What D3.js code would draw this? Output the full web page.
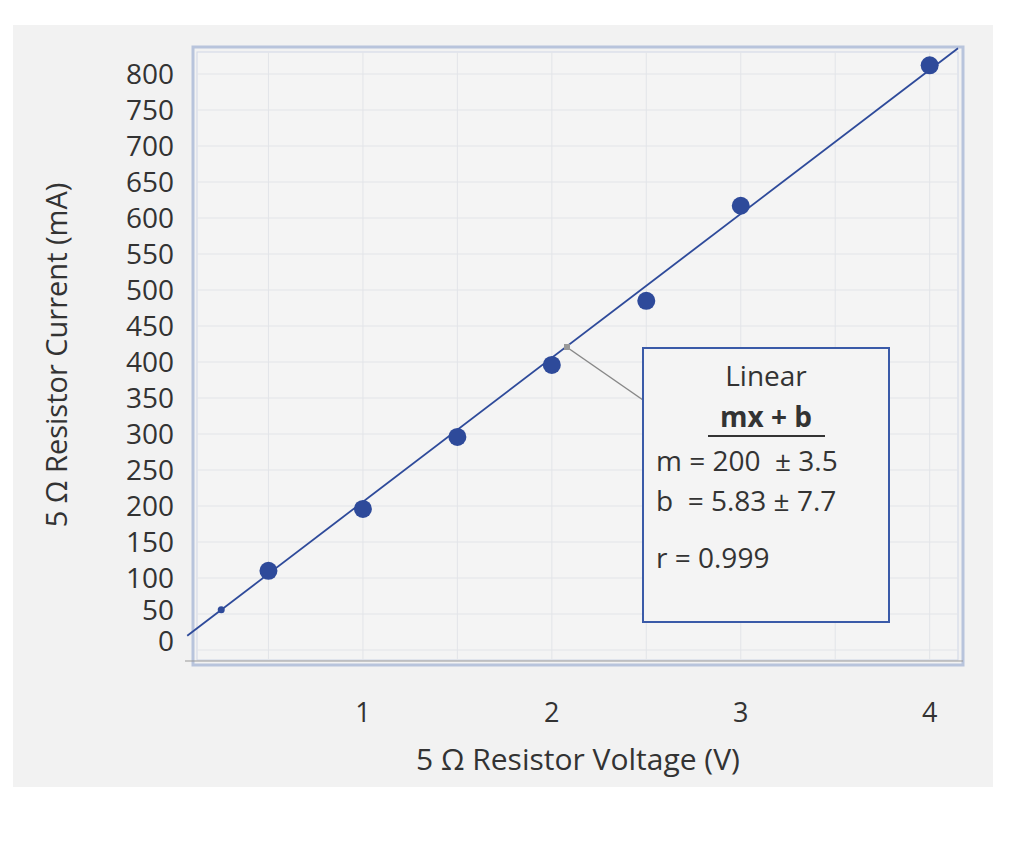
<!DOCTYPE html>
<html><head><meta charset="utf-8">
<script src="https://cdn.jsdelivr.net/npm/d3@7"></script>
<style>body{margin:0;background:#fff}svg{display:block}</style>
</head><body><svg id="c" width="1024" height="847"></svg>
<script>
const xTicks=[1,2,3,4];
const yTicks=[0,50,100,150,200,250,300,350,400,450,500,550,600,650,700,750,800];
const voltage=[0.5,1,1.5,2,2.5,3,4];
const current=[110,196,296,396,485,617,812];
const fitM=200, fitB=5.83;
const fitText=["Linear","mx + b","m = 200  ± 3.5","b  = 5.83 ± 7.7","r = 0.999"];

const svg=d3.select("#c");
const font="'Open Sans','DejaVu Sans',sans-serif";
svg.append("rect").attr("x",13).attr("y",25).attr("width",980).attr("height",762).attr("fill","#f2f2f2");
const x=d3.scaleLinear().domain([0,4.15]).range([174,958]);
const y=d3.scaleLinear().domain([0,800]).range([650,74]);
svg.append("rect").attr("x",193).attr("y",47).attr("width",770).attr("height",618).attr("fill","none").attr("stroke","#b8c4dc").attr("stroke-width",3);
svg.append("rect").attr("x",197).attr("y",52).attr("width",761).attr("height",608).attr("fill","#f4f4f4").attr("stroke","#cfd6e6").attr("stroke-width",1);
const gx=[0.5,1,1.5,2,2.5,3,3.5,4];
svg.append("g").selectAll("line").data(gx).join("line").attr("x1",d=>x(d)).attr("x2",d=>x(d)).attr("y1",52).attr("y2",660).attr("stroke","#e2e4e8");
svg.append("g").selectAll("line").data(yTicks).join("line").attr("x1",197).attr("x2",958).attr("y1",d=>y(d)).attr("y2",d=>y(d)).attr("stroke","#e2e4e8");
svg.append("line").attr("x1",185).attr("x2",963).attr("y1",661).attr("y2",661).attr("stroke","#999");
svg.append("g").selectAll("text").data(yTicks).join("text").attr("x",174).attr("y",d=>d===0?641:d===50?y(d)-4:y(d)).attr("dy","0.35em")
 .attr("text-anchor","end").attr("font-family",font).attr("font-size",28).attr("fill","#333").text(d=>d);
svg.append("g").selectAll("text").data(xTicks).join("text").attr("x",d=>x(d)).attr("y",722).attr("text-anchor","middle")
 .attr("font-family",font).attr("font-size",27).attr("fill","#333").text(d=>d);
svg.append("text").attr("x",578).attr("y",770).attr("text-anchor","middle").attr("font-family",font).attr("font-size",30).attr("fill","#333").text("5 Ω Resistor Voltage (V)");
svg.append("text").attr("transform","translate(67,355) rotate(-90)").attr("text-anchor","middle").attr("font-family",font).attr("font-size",29).attr("fill","#333").text("5 Ω Resistor Current (mA)");
const x0=0.07,x1=4.15;
svg.append("line").attr("x1",x(x0)).attr("y1",y(fitM*x0+fitB)).attr("x2",x(x1)).attr("y2",y(fitM*x1+fitB)).attr("stroke","#2e4a9a").attr("stroke-width",1.8);
svg.append("g").selectAll("circle").data(voltage).join("circle").attr("cx",d=>x(d)).attr("cy",(d,i)=>y(current[i])).attr("r",9).attr("fill","#2e4a9a");
svg.append("circle").attr("cx",x(0.25)).attr("cy",y(56)).attr("r",3.5).attr("fill","#2e4a9a");
svg.append("line").attr("x1",643).attr("y1",400).attr("x2",568).attr("y2",348).attr("stroke","#888").attr("stroke-width",1.5);
svg.append("rect").attr("x",564).attr("y",344).attr("width",6).attr("height",6).attr("fill","#999");
svg.append("rect").attr("x",643).attr("y",348).attr("width",246).attr("height",274).attr("fill","#f4f4f4").attr("stroke","#3a5aa8").attr("stroke-width",2);
const tx=[{t:fitText[0],x:766,y:386,a:"middle",w:400},{t:fitText[1],x:766,y:427,a:"middle",w:700},{t:fitText[2],x:656,y:471,a:"start",w:400},{t:fitText[3],x:656,y:511,a:"start",w:400},{t:fitText[4],x:656,y:568,a:"start",w:400}];
svg.append("g").selectAll("text").data(tx).join("text").attr("x",d=>d.x).attr("y",d=>d.y).attr("text-anchor",d=>d.a).attr("font-weight",d=>d.w)
 .attr("font-family",font).attr("font-size",28).attr("fill","#333").attr("xml:space","preserve").style("white-space","pre").text(d=>d.t);
svg.append("line").attr("x1",708).attr("x2",825).attr("y1",436).attr("y2",436).attr("stroke","#333").attr("stroke-width",2);
</script></body></html>
